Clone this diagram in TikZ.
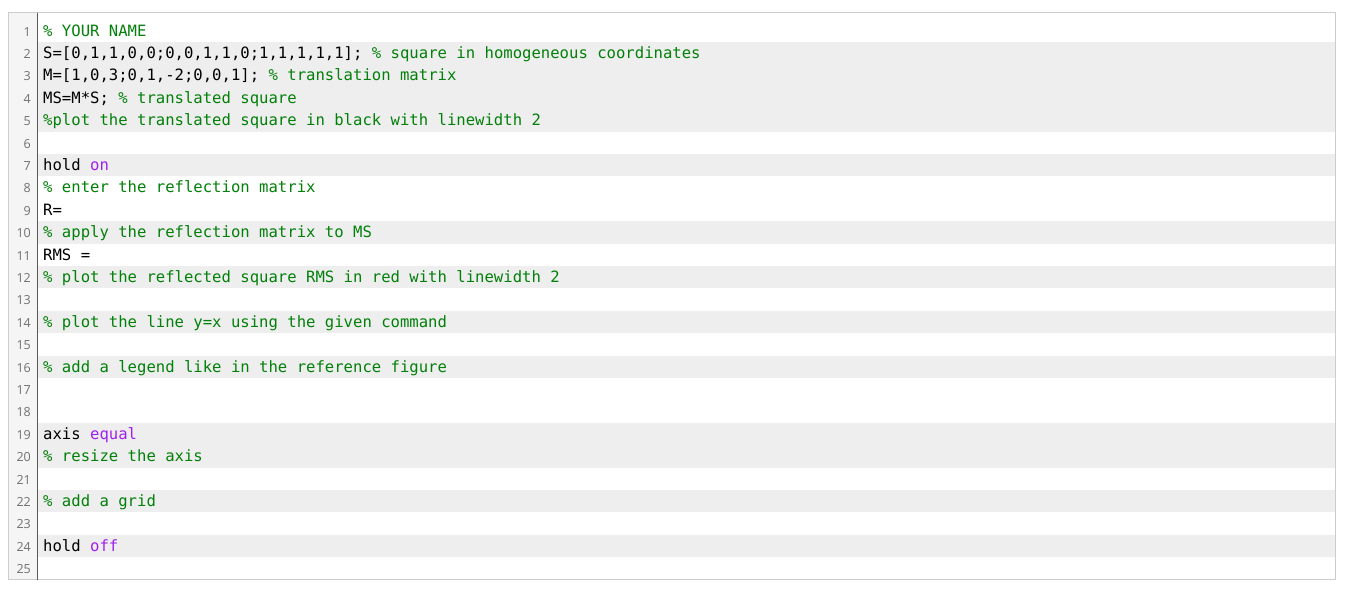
\documentclass[tikz,border=0pt]{standalone}
\usepackage{fontspec}
\setmonofont{DejaVu Sans Mono}
\newfontfamily\numfont{Open Sans}
\definecolor{cmt}{HTML}{028009}
\definecolor{kw}{HTML}{A020F0}
\definecolor{band}{HTML}{EEEEEE}
\definecolor{gut}{HTML}{F5F5F5}
\definecolor{bord}{HTML}{CCCCCC}
\definecolor{lnum}{HTML}{707070}
\begin{document}
\begin{tikzpicture}[x=1pt,y=-1pt,
  code/.style={anchor=base west,inner sep=0pt,font=\ttfamily\fontsize{15.6}{18}\selectfont,text=black},
  lno/.style={anchor=base east,inner sep=0pt,font=\numfont\fontsize{12.5}{15}\selectfont,text=lnum}]
\useasboundingbox (0,0) rectangle (1352,589);
\fill[white] (0,0) rectangle (1352,589);
\fill[gut] (8,12) rectangle (37,580);
\foreach \r/\n in {2/4,7/1,10/1,12/1,14/1,16/1,19/2,22/1,24/1}
  \fill[band] (38,{19.6+(\r-1)*22.4}) rectangle (1335,{19.6+(\r-1+\n)*22.4});
\draw[bord] (8.5,12.5) rectangle (1335.5,579.5);
\draw[gray!70!black] (37.5,12.5) -- (37.5,579.5);
\foreach \k in {1,...,25}
  \node[lno] (n\k) at (31,{36+(\k-1)*22.4}) {\k};
\node[code,text=cmt] (l1) at (43,36) {\% YOUR NAME};
\node[code] (l2) at (43,58.4) {S=[0,1,1,0,0;0,0,1,1,0;1,1,1,1,1]; \textcolor{cmt}{\% square in homogeneous coordinates}};
\node[code] (l3) at (43,80.8) {M=[1,0,3;0,1,-2;0,0,1]; \textcolor{cmt}{\% translation matrix}};
\node[code] (l4) at (43,103.2) {MS=M*S; \textcolor{cmt}{\% translated square}};
\node[code,text=cmt] (l5) at (43,125.6) {\%plot the translated square in black with linewidth 2};
\node[code] (l7) at (43,170.4) {hold \textcolor{kw}{on}};
\node[code,text=cmt] (l8) at (43,192.8) {\% enter the reflection matrix};
\node[code] (l9) at (43,215.2) {R=};
\node[code,text=cmt] (l10) at (43,237.6) {\% apply the reflection matrix to MS};
\node[code] (l11) at (43,260) {RMS =};
\node[code,text=cmt] (l12) at (43,282.4) {\% plot the reflected square RMS in red with linewidth 2};
\node[code,text=cmt] (l14) at (43,327.2) {\% plot the line y=x using the given command};
\node[code,text=cmt] (l16) at (43,372) {\% add a legend like in the reference figure};
\node[code] (l19) at (43,439.2) {axis \textcolor{kw}{equal}};
\node[code,text=cmt] (l20) at (43,461.6) {\% resize the axis};
\node[code,text=cmt] (l22) at (43,506.4) {\% add a grid};
\node[code] (l24) at (43,551.2) {hold \textcolor{kw}{off}};
\end{tikzpicture}
\end{document}
